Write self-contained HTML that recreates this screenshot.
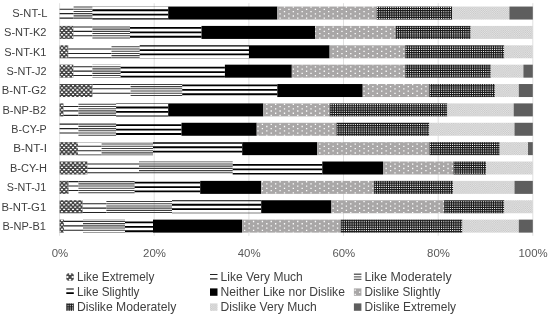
<!DOCTYPE html>
<html><head><meta charset="utf-8"><title>chart</title>
<style>
html,body{margin:0;padding:0;background:#fff;}
body{width:550px;height:315px;overflow:hidden;font-family:"Liberation Sans",sans-serif;}
svg{display:block}
svg text{font-family:"Liberation Sans",sans-serif;}
</style></head><body>
<svg width="550" height="315" viewBox="0 0 550 315">
<defs>
<pattern id="pDVM" width="2.2" height="2.2" patternUnits="userSpaceOnUse">
<rect width="2.2" height="2.2" fill="#e6e6e6"/><rect width="1.1" height="1.1" fill="#c6c6c6"/><rect x="1.1" y="1.1" width="1.1" height="1.1" fill="#c6c6c6"/>
</pattern>
</defs>
<rect width="550" height="315" fill="#fff"/>

<line x1="59.6" y1="3.2" x2="59.6" y2="235.8" stroke="#d9d9d9" stroke-width="0.8"/>
<line x1="154.2" y1="3.2" x2="154.2" y2="235.8" stroke="#d9d9d9" stroke-width="0.8"/>
<line x1="248.9" y1="3.2" x2="248.9" y2="235.8" stroke="#d9d9d9" stroke-width="0.8"/>
<line x1="343.5" y1="3.2" x2="343.5" y2="235.8" stroke="#d9d9d9" stroke-width="0.8"/>
<line x1="438.2" y1="3.2" x2="438.2" y2="235.8" stroke="#d9d9d9" stroke-width="0.8"/>
<line x1="532.8" y1="3.2" x2="532.8" y2="235.8" stroke="#d9d9d9" stroke-width="0.8"/>
<text x="12.20" y="16.8" font-size="11.25" fill="#404040" textLength="35.3" lengthAdjust="spacingAndGlyphs">S-NT-L</text>
<path d="M59.6 8.7H73.6V9.8H59.6ZM59.6 13.12H73.6V14.22H59.6ZM59.6 17.54H73.6V18.64H59.6Z" fill="#222"/>
<path d="M73.6 6.55H92.4V7.59H73.6ZM73.6 8.7H92.4V9.8H73.6ZM73.6 10.91H92.4V12.01H73.6ZM73.6 13.12H92.4V14.22H73.6ZM73.6 15.33H92.4V16.43H73.6ZM73.6 17.54H92.4V18.64H73.6Z" fill="#404040"/>
<path d="M92.4 6.55H168.2V6.73H92.4ZM92.4 9.35H168.2V11.15H92.4ZM92.4 13.77H168.2V15.57H92.4ZM92.4 18.19H168.2V19.55H92.4Z" fill="#000"/>
<rect x="168.2" y="6.55" width="109.1" height="13" fill="#000"/>
<rect x="277.3" y="6.55" width="99.4" height="13" fill="#a9a7a7"/><g fill="none" stroke="#fff" stroke-dasharray="1.3 7.54"><path d="M277.3 9.36H376.7" stroke-width="1.3" stroke-dashoffset="6.71"/><path d="M277.3 13.78H376.7" stroke-width="1.3" stroke-dashoffset="6.71"/><path d="M277.3 18.2H376.7" stroke-width="1.3" stroke-dashoffset="6.71"/></g><g fill="none" stroke="#fff" stroke-dasharray="1.3 7.54"><path d="M277.3 7.17H376.7" stroke-width="1.25" stroke-dashoffset="2.29"/><path d="M277.3 11.57H376.7" stroke-width="1.3" stroke-dashoffset="2.29"/><path d="M277.3 15.99H376.7" stroke-width="1.3" stroke-dashoffset="2.29"/></g>
<rect x="376.7" y="6.55" width="75.5" height="13" fill="#1c1c1c"/><g fill="none" stroke="#fff" stroke-dasharray="1.05 1.16"><path d="M376.7 7.36H452.2" stroke-width="1.05" stroke-dashoffset="1.96"/><path d="M376.7 9.57H452.2" stroke-width="1.05" stroke-dashoffset="1.96"/><path d="M376.7 11.78H452.2" stroke-width="1.05" stroke-dashoffset="1.96"/><path d="M376.7 13.99H452.2" stroke-width="1.05" stroke-dashoffset="1.96"/><path d="M376.7 16.2H452.2" stroke-width="1.05" stroke-dashoffset="1.96"/><path d="M376.7 18.41H452.2" stroke-width="1.05" stroke-dashoffset="1.96"/></g>
<rect x="452.2" y="6.55" width="57.2" height="13" fill="url(#pDVM)"/>
<rect x="509.4" y="6.55" width="23.4" height="13" fill="#5e5e5e"/>
<text x="4.00" y="36.1" font-size="11.25" fill="#404040" textLength="42.5" lengthAdjust="spacingAndGlyphs">S-NT-K2</text>
<rect x="59.6" y="25.92" width="13.7" height="13" fill="#454545"/><g fill="none" stroke="#fff" stroke-dasharray="2 2.42"><path d="M59.6 28.14H73.3" stroke-width="1.35" stroke-dashoffset="0.87"/><path d="M59.6 32.56H73.3" stroke-width="1.35" stroke-dashoffset="0.87"/><path d="M59.6 36.98H73.3" stroke-width="1.35" stroke-dashoffset="0.87"/></g><g fill="none" stroke="#fff" stroke-dasharray="2 2.42"><path d="M59.6 26.26H73.3" stroke-width="0.68" stroke-dashoffset="3.08"/><path d="M59.6 30.35H73.3" stroke-width="1.35" stroke-dashoffset="3.08"/><path d="M59.6 34.77H73.3" stroke-width="1.35" stroke-dashoffset="3.08"/><path d="M59.6 38.72H73.3" stroke-width="0.41" stroke-dashoffset="3.08"/></g>
<path d="M73.3 26.38H92.4V27.48H73.3ZM73.3 30.8H92.4V31.9H73.3ZM73.3 35.22H92.4V36.32H73.3Z" fill="#222"/>
<path d="M92.4 26.38H130V27.48H92.4ZM92.4 28.59H130V29.69H92.4ZM92.4 30.8H130V31.9H92.4ZM92.4 33.01H130V34.11H92.4ZM92.4 35.22H130V36.32H92.4ZM92.4 37.43H130V38.53H92.4Z" fill="#404040"/>
<path d="M130 27.03H201.5V28.83H130ZM130 31.45H201.5V33.25H130ZM130 35.87H201.5V37.67H130Z" fill="#000"/>
<rect x="201.5" y="25.92" width="113.7" height="13" fill="#000"/>
<rect x="315.2" y="25.92" width="80.5" height="13" fill="#a9a7a7"/><g fill="none" stroke="#fff" stroke-dasharray="1.3 7.54"><path d="M315.2 27.04H395.7" stroke-width="1.3" stroke-dashoffset="0.41"/><path d="M315.2 31.46H395.7" stroke-width="1.3" stroke-dashoffset="0.41"/><path d="M315.2 35.88H395.7" stroke-width="1.3" stroke-dashoffset="0.41"/></g><g fill="none" stroke="#fff" stroke-dasharray="1.3 7.54"><path d="M315.2 29.25H395.7" stroke-width="1.3" stroke-dashoffset="4.83"/><path d="M315.2 33.67H395.7" stroke-width="1.3" stroke-dashoffset="4.83"/><path d="M315.2 38.09H395.7" stroke-width="1.3" stroke-dashoffset="4.83"/></g>
<rect x="395.7" y="25.92" width="75" height="13" fill="#1c1c1c"/><g fill="none" stroke="#fff" stroke-dasharray="1.05 1.16"><path d="M395.7 27.25H470.7" stroke-width="1.05" stroke-dashoffset="1.07"/><path d="M395.7 29.46H470.7" stroke-width="1.05" stroke-dashoffset="1.07"/><path d="M395.7 31.67H470.7" stroke-width="1.05" stroke-dashoffset="1.07"/><path d="M395.7 33.88H470.7" stroke-width="1.05" stroke-dashoffset="1.07"/><path d="M395.7 36.09H470.7" stroke-width="1.05" stroke-dashoffset="1.07"/><path d="M395.7 38.3H470.7" stroke-width="1.05" stroke-dashoffset="1.07"/></g>
<rect x="470.7" y="25.92" width="62.1" height="13" fill="url(#pDVM)"/>
<text x="4.20" y="55.5" font-size="11.25" fill="#404040" textLength="42.3" lengthAdjust="spacingAndGlyphs">S-NT-K1</text>
<rect x="59.6" y="45.29" width="8.6" height="13" fill="#454545"/><g fill="none" stroke="#fff" stroke-dasharray="2 2.42"><path d="M59.6 45.89H68.2" stroke-width="1.2" stroke-dashoffset="0.87"/><path d="M59.6 50.24H68.2" stroke-width="1.35" stroke-dashoffset="0.87"/><path d="M59.6 54.66H68.2" stroke-width="1.35" stroke-dashoffset="0.87"/></g><g fill="none" stroke="#fff" stroke-dasharray="2 2.42"><path d="M59.6 48.03H68.2" stroke-width="1.35" stroke-dashoffset="3.08"/><path d="M59.6 52.45H68.2" stroke-width="1.35" stroke-dashoffset="3.08"/><path d="M59.6 56.87H68.2" stroke-width="1.35" stroke-dashoffset="3.08"/></g>
<path d="M68.2 48.48H111.5V49.58H68.2ZM68.2 52.9H111.5V54H68.2ZM68.2 57.32H111.5V58.29H68.2Z" fill="#222"/>
<path d="M111.5 46.27H139.7V47.37H111.5ZM111.5 48.48H139.7V49.58H111.5ZM111.5 50.69H139.7V51.79H111.5ZM111.5 52.9H139.7V54H111.5ZM111.5 55.11H139.7V56.21H111.5ZM111.5 57.32H139.7V58.29H111.5Z" fill="#404040"/>
<path d="M139.7 45.29H249V46.51H139.7ZM139.7 49.13H249V50.93H139.7ZM139.7 53.55H249V55.35H139.7ZM139.7 57.97H249V58.29H139.7Z" fill="#000"/>
<rect x="249" y="45.29" width="80.6" height="13" fill="#000"/>
<rect x="329.6" y="45.29" width="75.6" height="13" fill="#a9a7a7"/><g fill="none" stroke="#fff" stroke-dasharray="1.3 7.54"><path d="M329.6 45.33H405.2" stroke-width="0.08" stroke-dashoffset="5.97"/><path d="M329.6 49.14H405.2" stroke-width="1.3" stroke-dashoffset="5.97"/><path d="M329.6 53.56H405.2" stroke-width="1.3" stroke-dashoffset="5.97"/><path d="M329.6 57.81H405.2" stroke-width="0.96" stroke-dashoffset="5.97"/></g><g fill="none" stroke="#fff" stroke-dasharray="1.3 7.54"><path d="M329.6 46.93H405.2" stroke-width="1.3" stroke-dashoffset="1.55"/><path d="M329.6 51.35H405.2" stroke-width="1.3" stroke-dashoffset="1.55"/><path d="M329.6 55.77H405.2" stroke-width="1.3" stroke-dashoffset="1.55"/></g>
<rect x="405.2" y="45.29" width="99.1" height="13" fill="#1c1c1c"/><g fill="none" stroke="#fff" stroke-dasharray="1.05 1.16"><path d="M405.2 45.37H504.3" stroke-width="0.16" stroke-dashoffset="1.73"/><path d="M405.2 47.14H504.3" stroke-width="1.05" stroke-dashoffset="1.73"/><path d="M405.2 49.35H504.3" stroke-width="1.05" stroke-dashoffset="1.73"/><path d="M405.2 51.56H504.3" stroke-width="1.05" stroke-dashoffset="1.73"/><path d="M405.2 53.77H504.3" stroke-width="1.05" stroke-dashoffset="1.73"/><path d="M405.2 55.98H504.3" stroke-width="1.05" stroke-dashoffset="1.73"/><path d="M405.2 57.98H504.3" stroke-width="0.62" stroke-dashoffset="1.73"/></g>
<rect x="504.3" y="45.29" width="28.5" height="13" fill="url(#pDVM)"/>
<text x="6.50" y="74.9" font-size="11.25" fill="#404040" textLength="40.0" lengthAdjust="spacingAndGlyphs">S-NT-J2</text>
<rect x="59.6" y="64.66" width="13.7" height="13" fill="#454545"/><g fill="none" stroke="#fff" stroke-dasharray="2 2.42"><path d="M59.6 67.92H73.3" stroke-width="1.35" stroke-dashoffset="0.87"/><path d="M59.6 72.34H73.3" stroke-width="1.35" stroke-dashoffset="0.87"/><path d="M59.6 76.76H73.3" stroke-width="1.35" stroke-dashoffset="0.87"/></g><g fill="none" stroke="#fff" stroke-dasharray="2 2.42"><path d="M59.6 65.71H73.3" stroke-width="1.35" stroke-dashoffset="3.08"/><path d="M59.6 70.13H73.3" stroke-width="1.35" stroke-dashoffset="3.08"/><path d="M59.6 74.55H73.3" stroke-width="1.35" stroke-dashoffset="3.08"/></g>
<path d="M73.3 66.16H92.4V67.26H73.3ZM73.3 70.58H92.4V71.68H73.3ZM73.3 75H92.4V76.1H73.3Z" fill="#222"/>
<path d="M92.4 64.66H120.6V65.05H92.4ZM92.4 66.16H120.6V67.26H92.4ZM92.4 68.37H120.6V69.47H92.4ZM92.4 70.58H120.6V71.68H92.4ZM92.4 72.79H120.6V73.89H92.4ZM92.4 75H120.6V76.1H92.4ZM92.4 77.21H120.6V77.66H92.4Z" fill="#404040"/>
<path d="M120.6 66.81H224.9V68.61H120.6ZM120.6 71.23H224.9V73.03H120.6ZM120.6 75.65H224.9V77.45H120.6Z" fill="#000"/>
<rect x="224.9" y="64.66" width="66.9" height="13" fill="#000"/>
<rect x="291.8" y="64.66" width="113.4" height="13" fill="#a9a7a7"/><g fill="none" stroke="#fff" stroke-dasharray="1.3 7.54"><path d="M291.8 66.82H405.2" stroke-width="1.3" stroke-dashoffset="3.53"/><path d="M291.8 71.24H405.2" stroke-width="1.3" stroke-dashoffset="3.53"/><path d="M291.8 75.66H405.2" stroke-width="1.3" stroke-dashoffset="3.53"/></g><g fill="none" stroke="#fff" stroke-dasharray="1.3 7.54"><path d="M291.8 64.96H405.2" stroke-width="0.6" stroke-dashoffset="7.95"/><path d="M291.8 69.03H405.2" stroke-width="1.3" stroke-dashoffset="7.95"/><path d="M291.8 73.45H405.2" stroke-width="1.3" stroke-dashoffset="7.95"/><path d="M291.8 77.44H405.2" stroke-width="0.44" stroke-dashoffset="7.95"/></g>
<rect x="405.2" y="64.66" width="85.6" height="13" fill="#1c1c1c"/><g fill="none" stroke="#fff" stroke-dasharray="1.05 1.16"><path d="M405.2 65H490.8" stroke-width="0.69" stroke-dashoffset="1.73"/><path d="M405.2 67.03H490.8" stroke-width="1.05" stroke-dashoffset="1.73"/><path d="M405.2 69.24H490.8" stroke-width="1.05" stroke-dashoffset="1.73"/><path d="M405.2 71.45H490.8" stroke-width="1.05" stroke-dashoffset="1.73"/><path d="M405.2 73.66H490.8" stroke-width="1.05" stroke-dashoffset="1.73"/><path d="M405.2 75.87H490.8" stroke-width="1.05" stroke-dashoffset="1.73"/><path d="M405.2 77.61H490.8" stroke-width="0.11" stroke-dashoffset="1.73"/></g>
<rect x="490.8" y="64.66" width="32.6" height="13" fill="url(#pDVM)"/>
<rect x="523.4" y="64.66" width="9.4" height="13" fill="#5e5e5e"/>
<text x="1.70" y="94.2" font-size="11.25" fill="#404040" textLength="44.5" lengthAdjust="spacingAndGlyphs">B-NT-G2</text>
<rect x="59.6" y="84.03" width="32.8" height="13" fill="#454545"/><g fill="none" stroke="#fff" stroke-dasharray="2 2.42"><path d="M59.6 85.6H92.4" stroke-width="1.35" stroke-dashoffset="0.87"/><path d="M59.6 90.02H92.4" stroke-width="1.35" stroke-dashoffset="0.87"/><path d="M59.6 94.44H92.4" stroke-width="1.35" stroke-dashoffset="0.87"/></g><g fill="none" stroke="#fff" stroke-dasharray="2 2.42"><path d="M59.6 87.81H92.4" stroke-width="1.35" stroke-dashoffset="3.08"/><path d="M59.6 92.23H92.4" stroke-width="1.35" stroke-dashoffset="3.08"/><path d="M59.6 96.5H92.4" stroke-width="1.06" stroke-dashoffset="3.08"/></g>
<path d="M92.4 84.03H130.6V84.94H92.4ZM92.4 88.26H130.6V89.36H92.4ZM92.4 92.68H130.6V93.78H92.4Z" fill="#222"/>
<path d="M130.6 84.03H182.2V84.94H130.6ZM130.6 86.05H182.2V87.15H130.6ZM130.6 88.26H182.2V89.36H130.6ZM130.6 90.47H182.2V91.57H130.6ZM130.6 92.68H182.2V93.78H130.6ZM130.6 94.89H182.2V95.99H130.6Z" fill="#404040"/>
<path d="M182.2 84.49H277.3V86.29H182.2ZM182.2 88.91H277.3V90.71H182.2ZM182.2 93.33H277.3V95.13H182.2Z" fill="#000"/>
<rect x="277.3" y="84.03" width="85.4" height="13" fill="#000"/>
<rect x="362.7" y="84.03" width="66.6" height="13" fill="#a9a7a7"/><g fill="none" stroke="#fff" stroke-dasharray="1.3 7.54"><path d="M362.7 84.59H429.3" stroke-width="1.12" stroke-dashoffset="3.71"/><path d="M362.7 88.92H429.3" stroke-width="1.3" stroke-dashoffset="3.71"/><path d="M362.7 93.34H429.3" stroke-width="1.3" stroke-dashoffset="3.71"/></g><g fill="none" stroke="#fff" stroke-dasharray="1.3 7.54"><path d="M362.7 86.71H429.3" stroke-width="1.3" stroke-dashoffset="8.13"/><path d="M362.7 91.13H429.3" stroke-width="1.3" stroke-dashoffset="8.13"/><path d="M362.7 95.55H429.3" stroke-width="1.3" stroke-dashoffset="8.13"/></g>
<rect x="429.3" y="84.03" width="65.6" height="13" fill="#1c1c1c"/><g fill="none" stroke="#fff" stroke-dasharray="1.05 1.16"><path d="M429.3 84.71H494.9" stroke-width="1.05" stroke-dashoffset="1.52"/><path d="M429.3 86.92H494.9" stroke-width="1.05" stroke-dashoffset="1.52"/><path d="M429.3 89.13H494.9" stroke-width="1.05" stroke-dashoffset="1.52"/><path d="M429.3 91.34H494.9" stroke-width="1.05" stroke-dashoffset="1.52"/><path d="M429.3 93.55H494.9" stroke-width="1.05" stroke-dashoffset="1.52"/><path d="M429.3 95.76H494.9" stroke-width="1.05" stroke-dashoffset="1.52"/></g>
<rect x="494.9" y="84.03" width="23.9" height="13" fill="url(#pDVM)"/>
<rect x="518.8" y="84.03" width="14" height="13" fill="#5e5e5e"/>
<text x="2.40" y="113.6" font-size="11.25" fill="#404040" textLength="43.8" lengthAdjust="spacingAndGlyphs">B-NP-B2</text>
<rect x="59.6" y="103.4" width="3.8" height="13" fill="#454545"/><g fill="none" stroke="#fff" stroke-dasharray="2 2.42"><path d="M59.6 103.68H63.4" stroke-width="0.55" stroke-dashoffset="0.87"/><path d="M59.6 107.7H63.4" stroke-width="1.35" stroke-dashoffset="0.87"/><path d="M59.6 112.12H63.4" stroke-width="1.35" stroke-dashoffset="0.87"/><path d="M59.6 116.13H63.4" stroke-width="0.54" stroke-dashoffset="0.87"/></g><g fill="none" stroke="#fff" stroke-dasharray="2 2.42"><path d="M59.6 105.49H63.4" stroke-width="1.35" stroke-dashoffset="3.08"/><path d="M59.6 109.91H63.4" stroke-width="1.35" stroke-dashoffset="3.08"/><path d="M59.6 114.33H63.4" stroke-width="1.35" stroke-dashoffset="3.08"/></g>
<path d="M63.4 105.94H78.4V107.04H63.4ZM63.4 110.36H78.4V111.46H63.4ZM63.4 114.78H78.4V115.88H63.4Z" fill="#222"/>
<path d="M78.4 103.73H116.1V104.83H78.4ZM78.4 105.94H116.1V107.04H78.4ZM78.4 108.15H116.1V109.25H78.4ZM78.4 110.36H116.1V111.46H78.4ZM78.4 112.57H116.1V113.67H78.4ZM78.4 114.78H116.1V115.88H78.4Z" fill="#404040"/>
<path d="M116.1 103.4H168.2V103.97H116.1ZM116.1 106.59H168.2V108.39H116.1ZM116.1 111.01H168.2V112.81H116.1ZM116.1 115.43H168.2V116.4H116.1Z" fill="#000"/>
<rect x="168.2" y="103.4" width="95.1" height="13" fill="#000"/>
<rect x="263.3" y="103.4" width="66.3" height="13" fill="#a9a7a7"/><g fill="none" stroke="#fff" stroke-dasharray="1.3 7.54"><path d="M263.3 106.6H329.6" stroke-width="1.3" stroke-dashoffset="1.55"/><path d="M263.3 111.02H329.6" stroke-width="1.3" stroke-dashoffset="1.55"/><path d="M263.3 115.44H329.6" stroke-width="1.3" stroke-dashoffset="1.55"/></g><g fill="none" stroke="#fff" stroke-dasharray="1.3 7.54"><path d="M263.3 104.39H329.6" stroke-width="1.3" stroke-dashoffset="5.97"/><path d="M263.3 108.81H329.6" stroke-width="1.3" stroke-dashoffset="5.97"/><path d="M263.3 113.23H329.6" stroke-width="1.3" stroke-dashoffset="5.97"/></g>
<rect x="329.6" y="103.4" width="117.7" height="13" fill="#1c1c1c"/><g fill="none" stroke="#fff" stroke-dasharray="1.05 1.16"><path d="M329.6 104.6H447.3" stroke-width="1.05" stroke-dashoffset="1.27"/><path d="M329.6 106.81H447.3" stroke-width="1.05" stroke-dashoffset="1.27"/><path d="M329.6 109.02H447.3" stroke-width="1.05" stroke-dashoffset="1.27"/><path d="M329.6 111.23H447.3" stroke-width="1.05" stroke-dashoffset="1.27"/><path d="M329.6 113.44H447.3" stroke-width="1.05" stroke-dashoffset="1.27"/><path d="M329.6 115.65H447.3" stroke-width="1.05" stroke-dashoffset="1.27"/></g>
<rect x="447.3" y="103.4" width="66.4" height="13" fill="url(#pDVM)"/>
<rect x="513.7" y="103.4" width="19.1" height="13" fill="#5e5e5e"/>
<text x="11.30" y="133.0" font-size="11.25" fill="#404040" textLength="35.3" lengthAdjust="spacingAndGlyphs">B-CY-P</text>
<path d="M59.6 123.62H78.4V124.72H59.6ZM59.6 128.04H78.4V129.14H59.6ZM59.6 132.46H78.4V133.56H59.6Z" fill="#222"/>
<path d="M78.4 123.62H116.1V124.72H78.4ZM78.4 125.83H116.1V126.93H78.4ZM78.4 128.04H116.1V129.14H78.4ZM78.4 130.25H116.1V131.35H78.4ZM78.4 132.46H116.1V133.56H78.4ZM78.4 134.67H116.1V135.77H78.4Z" fill="#404040"/>
<path d="M116.1 124.27H181.5V126.07H116.1ZM116.1 128.69H181.5V130.49H116.1ZM116.1 133.11H181.5V134.91H116.1Z" fill="#000"/>
<rect x="181.5" y="122.77" width="75.2" height="13" fill="#000"/>
<rect x="256.7" y="122.77" width="79.8" height="13" fill="#a9a7a7"/><g fill="none" stroke="#fff" stroke-dasharray="1.3 7.54"><path d="M256.7 124.28H336.5" stroke-width="1.3" stroke-dashoffset="3.79"/><path d="M256.7 128.7H336.5" stroke-width="1.3" stroke-dashoffset="3.79"/><path d="M256.7 133.12H336.5" stroke-width="1.3" stroke-dashoffset="3.79"/></g><g fill="none" stroke="#fff" stroke-dasharray="1.3 7.54"><path d="M256.7 126.49H336.5" stroke-width="1.3" stroke-dashoffset="8.21"/><path d="M256.7 130.91H336.5" stroke-width="1.3" stroke-dashoffset="8.21"/><path d="M256.7 135.22H336.5" stroke-width="1.09" stroke-dashoffset="8.21"/></g>
<rect x="336.5" y="122.77" width="92.8" height="13" fill="#1c1c1c"/><g fill="none" stroke="#fff" stroke-dasharray="1.05 1.16"><path d="M336.5 124.49H429.3" stroke-width="1.05" stroke-dashoffset="1.54"/><path d="M336.5 126.7H429.3" stroke-width="1.05" stroke-dashoffset="1.54"/><path d="M336.5 128.91H429.3" stroke-width="1.05" stroke-dashoffset="1.54"/><path d="M336.5 131.12H429.3" stroke-width="1.05" stroke-dashoffset="1.54"/><path d="M336.5 133.33H429.3" stroke-width="1.05" stroke-dashoffset="1.54"/><path d="M336.5 135.39H429.3" stroke-width="0.75" stroke-dashoffset="1.54"/></g>
<rect x="429.3" y="122.77" width="85.2" height="13" fill="url(#pDVM)"/>
<rect x="514.5" y="122.77" width="18.3" height="13" fill="#5e5e5e"/>
<text x="13.20" y="152.3" font-size="11.25" fill="#404040" textLength="33.7" lengthAdjust="spacingAndGlyphs">B-NT-I</text>
<rect x="59.6" y="142.14" width="18.3" height="13" fill="#454545"/><g fill="none" stroke="#fff" stroke-dasharray="2 2.42"><path d="M59.6 143.06H77.9" stroke-width="1.35" stroke-dashoffset="0.87"/><path d="M59.6 147.48H77.9" stroke-width="1.35" stroke-dashoffset="0.87"/><path d="M59.6 151.9H77.9" stroke-width="1.35" stroke-dashoffset="0.87"/></g><g fill="none" stroke="#fff" stroke-dasharray="2 2.42"><path d="M59.6 145.27H77.9" stroke-width="1.35" stroke-dashoffset="3.08"/><path d="M59.6 149.69H77.9" stroke-width="1.35" stroke-dashoffset="3.08"/><path d="M59.6 154.11H77.9" stroke-width="1.35" stroke-dashoffset="3.08"/></g>
<path d="M77.9 142.14H101.6V142.4H77.9ZM77.9 145.72H101.6V146.82H77.9ZM77.9 150.14H101.6V151.24H77.9ZM77.9 154.56H101.6V155.14H77.9Z" fill="#222"/>
<path d="M101.6 142.14H153V142.4H101.6ZM101.6 143.51H153V144.61H101.6ZM101.6 145.72H153V146.82H101.6ZM101.6 147.93H153V149.03H101.6ZM101.6 150.14H153V151.24H101.6ZM101.6 152.35H153V153.45H101.6ZM101.6 154.56H153V155.14H101.6Z" fill="#404040"/>
<path d="M153 142.14H242.2V143.75H153ZM153 146.37H242.2V148.17H153ZM153 150.79H242.2V152.59H153Z" fill="#000"/>
<rect x="242.2" y="142.14" width="75" height="13" fill="#000"/>
<rect x="317.2" y="142.14" width="112.3" height="13" fill="#a9a7a7"/><g fill="none" stroke="#fff" stroke-dasharray="1.3 7.54"><path d="M317.2 142.38H429.5" stroke-width="0.47" stroke-dashoffset="2.41"/><path d="M317.2 146.38H429.5" stroke-width="1.3" stroke-dashoffset="2.41"/><path d="M317.2 150.8H429.5" stroke-width="1.3" stroke-dashoffset="2.41"/><path d="M317.2 154.86H429.5" stroke-width="0.57" stroke-dashoffset="2.41"/></g><g fill="none" stroke="#fff" stroke-dasharray="1.3 7.54"><path d="M317.2 144.17H429.5" stroke-width="1.3" stroke-dashoffset="6.83"/><path d="M317.2 148.59H429.5" stroke-width="1.3" stroke-dashoffset="6.83"/><path d="M317.2 153.01H429.5" stroke-width="1.3" stroke-dashoffset="6.83"/></g>
<rect x="429.5" y="142.14" width="70.2" height="13" fill="#1c1c1c"/><g fill="none" stroke="#fff" stroke-dasharray="1.05 1.16"><path d="M429.5 142.42H499.7" stroke-width="0.55" stroke-dashoffset="1.72"/><path d="M429.5 144.38H499.7" stroke-width="1.05" stroke-dashoffset="1.72"/><path d="M429.5 146.59H499.7" stroke-width="1.05" stroke-dashoffset="1.72"/><path d="M429.5 148.8H499.7" stroke-width="1.05" stroke-dashoffset="1.72"/><path d="M429.5 151.01H499.7" stroke-width="1.05" stroke-dashoffset="1.72"/><path d="M429.5 153.22H499.7" stroke-width="1.05" stroke-dashoffset="1.72"/><path d="M429.5 155.02H499.7" stroke-width="0.24" stroke-dashoffset="1.72"/></g>
<rect x="499.7" y="142.14" width="28.3" height="13" fill="url(#pDVM)"/>
<rect x="528" y="142.14" width="4.8" height="13" fill="#5e5e5e"/>
<text x="10.00" y="171.7" font-size="11.25" fill="#404040" textLength="36.9" lengthAdjust="spacingAndGlyphs">B-CY-H</text>
<rect x="59.6" y="161.51" width="27.7" height="13" fill="#454545"/><g fill="none" stroke="#fff" stroke-dasharray="2 2.42"><path d="M59.6 165.16H87.3" stroke-width="1.35" stroke-dashoffset="0.87"/><path d="M59.6 169.58H87.3" stroke-width="1.35" stroke-dashoffset="0.87"/><path d="M59.6 173.92H87.3" stroke-width="1.19" stroke-dashoffset="0.87"/></g><g fill="none" stroke="#fff" stroke-dasharray="2 2.42"><path d="M59.6 162.95H87.3" stroke-width="1.35" stroke-dashoffset="3.08"/><path d="M59.6 167.37H87.3" stroke-width="1.35" stroke-dashoffset="3.08"/><path d="M59.6 171.79H87.3" stroke-width="1.35" stroke-dashoffset="3.08"/></g>
<path d="M87.3 163.4H139V164.5H87.3ZM87.3 167.82H139V168.92H87.3ZM87.3 172.24H139V173.34H87.3Z" fill="#222"/>
<path d="M139 161.51H232.7V162.29H139ZM139 163.4H232.7V164.5H139ZM139 165.61H232.7V166.71H139ZM139 167.82H232.7V168.92H139ZM139 170.03H232.7V171.13H139ZM139 172.24H232.7V173.34H139ZM139 174.45H232.7V174.51H139Z" fill="#404040"/>
<path d="M232.7 164.05H322.3V165.85H232.7ZM232.7 168.47H322.3V170.27H232.7ZM232.7 172.89H322.3V174.51H232.7Z" fill="#000"/>
<rect x="322.3" y="161.51" width="60.7" height="13" fill="#000"/>
<rect x="383" y="161.51" width="70.5" height="13" fill="#a9a7a7"/><g fill="none" stroke="#fff" stroke-dasharray="1.3 7.54"><path d="M383 164.06H453.5" stroke-width="1.3" stroke-dashoffset="6.33"/><path d="M383 168.48H453.5" stroke-width="1.3" stroke-dashoffset="6.33"/><path d="M383 172.9H453.5" stroke-width="1.3" stroke-dashoffset="6.33"/></g><g fill="none" stroke="#fff" stroke-dasharray="1.3 7.54"><path d="M383 162H453.5" stroke-width="0.99" stroke-dashoffset="1.91"/><path d="M383 166.27H453.5" stroke-width="1.3" stroke-dashoffset="1.91"/><path d="M383 170.69H453.5" stroke-width="1.3" stroke-dashoffset="1.91"/><path d="M383 174.49H453.5" stroke-width="0.05" stroke-dashoffset="1.91"/></g>
<rect x="453.5" y="161.51" width="32.5" height="13" fill="#1c1c1c"/><g fill="none" stroke="#fff" stroke-dasharray="1.05 1.16"><path d="M453.5 162.06H486" stroke-width="1.05" stroke-dashoffset="1.41"/><path d="M453.5 164.27H486" stroke-width="1.05" stroke-dashoffset="1.41"/><path d="M453.5 166.48H486" stroke-width="1.05" stroke-dashoffset="1.41"/><path d="M453.5 168.69H486" stroke-width="1.05" stroke-dashoffset="1.41"/><path d="M453.5 170.9H486" stroke-width="1.05" stroke-dashoffset="1.41"/><path d="M453.5 173.11H486" stroke-width="1.05" stroke-dashoffset="1.41"/></g>
<rect x="486" y="161.51" width="46.8" height="13" fill="url(#pDVM)"/>
<text x="6.75" y="191.1" font-size="11.25" fill="#404040" textLength="39.5" lengthAdjust="spacingAndGlyphs">S-NT-J1</text>
<rect x="59.6" y="180.88" width="8.9" height="13" fill="#454545"/><g fill="none" stroke="#fff" stroke-dasharray="2 2.42"><path d="M59.6 182.84H68.5" stroke-width="1.35" stroke-dashoffset="0.87"/><path d="M59.6 187.26H68.5" stroke-width="1.35" stroke-dashoffset="0.87"/><path d="M59.6 191.68H68.5" stroke-width="1.35" stroke-dashoffset="0.87"/></g><g fill="none" stroke="#fff" stroke-dasharray="2 2.42"><path d="M59.6 181.09H68.5" stroke-width="0.42" stroke-dashoffset="3.08"/><path d="M59.6 185.05H68.5" stroke-width="1.35" stroke-dashoffset="3.08"/><path d="M59.6 189.47H68.5" stroke-width="1.35" stroke-dashoffset="3.08"/><path d="M59.6 193.55H68.5" stroke-width="0.67" stroke-dashoffset="3.08"/></g>
<path d="M68.5 181.08H78.4V182.18H68.5ZM68.5 185.5H78.4V186.6H68.5ZM68.5 189.92H78.4V191.02H68.5Z" fill="#222"/>
<path d="M78.4 181.08H134.6V182.18H78.4ZM78.4 183.29H134.6V184.39H78.4ZM78.4 185.5H134.6V186.6H78.4ZM78.4 187.71H134.6V188.81H78.4ZM78.4 189.92H134.6V191.02H78.4ZM78.4 192.13H134.6V193.23H78.4Z" fill="#404040"/>
<path d="M134.6 181.73H200.2V183.53H134.6ZM134.6 186.15H200.2V187.95H134.6ZM134.6 190.57H200.2V192.37H134.6Z" fill="#000"/>
<rect x="200.2" y="180.88" width="61" height="13" fill="#000"/>
<rect x="261.2" y="180.88" width="112.7" height="13" fill="#a9a7a7"/><g fill="none" stroke="#fff" stroke-dasharray="1.3 7.54"><path d="M261.2 181.74H373.9" stroke-width="1.3" stroke-dashoffset="8.29"/><path d="M261.2 186.16H373.9" stroke-width="1.3" stroke-dashoffset="8.29"/><path d="M261.2 190.58H373.9" stroke-width="1.3" stroke-dashoffset="8.29"/></g><g fill="none" stroke="#fff" stroke-dasharray="1.3 7.54"><path d="M261.2 183.95H373.9" stroke-width="1.3" stroke-dashoffset="3.87"/><path d="M261.2 188.37H373.9" stroke-width="1.3" stroke-dashoffset="3.87"/><path d="M261.2 192.79H373.9" stroke-width="1.3" stroke-dashoffset="3.87"/></g>
<rect x="373.9" y="180.88" width="79.1" height="13" fill="#1c1c1c"/><g fill="none" stroke="#fff" stroke-dasharray="1.05 1.16"><path d="M373.9 181.95H453" stroke-width="1.05" stroke-dashoffset="1.37"/><path d="M373.9 184.16H453" stroke-width="1.05" stroke-dashoffset="1.37"/><path d="M373.9 186.37H453" stroke-width="1.05" stroke-dashoffset="1.37"/><path d="M373.9 188.58H453" stroke-width="1.05" stroke-dashoffset="1.37"/><path d="M373.9 190.79H453" stroke-width="1.05" stroke-dashoffset="1.37"/><path d="M373.9 193H453" stroke-width="1.05" stroke-dashoffset="1.37"/></g>
<rect x="453" y="180.88" width="61.5" height="13" fill="url(#pDVM)"/>
<rect x="514.5" y="180.88" width="18.3" height="13" fill="#5e5e5e"/>
<text x="1.50" y="210.5" font-size="11.25" fill="#404040" textLength="44.7" lengthAdjust="spacingAndGlyphs">B-NT-G1</text>
<rect x="59.6" y="200.25" width="22.9" height="13" fill="#454545"/><g fill="none" stroke="#fff" stroke-dasharray="2 2.42"><path d="M59.6 200.72H82.5" stroke-width="0.94" stroke-dashoffset="0.87"/><path d="M59.6 204.94H82.5" stroke-width="1.35" stroke-dashoffset="0.87"/><path d="M59.6 209.36H82.5" stroke-width="1.35" stroke-dashoffset="0.87"/><path d="M59.6 213.18H82.5" stroke-width="0.15" stroke-dashoffset="0.87"/></g><g fill="none" stroke="#fff" stroke-dasharray="2 2.42"><path d="M59.6 202.73H82.5" stroke-width="1.35" stroke-dashoffset="3.08"/><path d="M59.6 207.15H82.5" stroke-width="1.35" stroke-dashoffset="3.08"/><path d="M59.6 211.57H82.5" stroke-width="1.35" stroke-dashoffset="3.08"/></g>
<path d="M82.5 203.18H106.4V204.28H82.5ZM82.5 207.6H106.4V208.7H82.5ZM82.5 212.02H106.4V213.12H82.5Z" fill="#222"/>
<path d="M106.4 200.97H172V202.07H106.4ZM106.4 203.18H172V204.28H106.4ZM106.4 205.39H172V206.49H106.4ZM106.4 207.6H172V208.7H106.4ZM106.4 209.81H172V210.91H106.4ZM106.4 212.02H172V213.12H106.4Z" fill="#404040"/>
<path d="M172 200.25H261.2V201.21H172ZM172 203.83H261.2V205.63H172ZM172 208.25H261.2V210.05H172ZM172 212.67H261.2V213.25H172Z" fill="#000"/>
<rect x="261.2" y="200.25" width="70.2" height="13" fill="#000"/>
<rect x="331.4" y="200.25" width="112.7" height="13" fill="#a9a7a7"/><g fill="none" stroke="#fff" stroke-dasharray="1.3 7.54"><path d="M331.4 203.84H444.1" stroke-width="1.3" stroke-dashoffset="7.77"/><path d="M331.4 208.26H444.1" stroke-width="1.3" stroke-dashoffset="7.77"/><path d="M331.4 212.64H444.1" stroke-width="1.22" stroke-dashoffset="7.77"/></g><g fill="none" stroke="#fff" stroke-dasharray="1.3 7.54"><path d="M331.4 201.63H444.1" stroke-width="1.3" stroke-dashoffset="3.35"/><path d="M331.4 206.05H444.1" stroke-width="1.3" stroke-dashoffset="3.35"/><path d="M331.4 210.47H444.1" stroke-width="1.3" stroke-dashoffset="3.35"/></g>
<rect x="444.1" y="200.25" width="60.2" height="13" fill="#1c1c1c"/><g fill="none" stroke="#fff" stroke-dasharray="1.05 1.16"><path d="M444.1 201.84H504.3" stroke-width="1.05" stroke-dashoffset="0.85"/><path d="M444.1 204.05H504.3" stroke-width="1.05" stroke-dashoffset="0.85"/><path d="M444.1 206.26H504.3" stroke-width="1.05" stroke-dashoffset="0.85"/><path d="M444.1 208.47H504.3" stroke-width="1.05" stroke-dashoffset="0.85"/><path d="M444.1 210.68H504.3" stroke-width="1.05" stroke-dashoffset="0.85"/><path d="M444.1 212.81H504.3" stroke-width="0.89" stroke-dashoffset="0.85"/></g>
<rect x="504.3" y="200.25" width="28.5" height="13" fill="url(#pDVM)"/>
<text x="2.40" y="229.8" font-size="11.25" fill="#404040" textLength="43.5" lengthAdjust="spacingAndGlyphs">B-NP-B1</text>
<rect x="59.6" y="219.62" width="4.3" height="13" fill="#454545"/><g fill="none" stroke="#fff" stroke-dasharray="2 2.42"><path d="M59.6 222.62H63.9" stroke-width="1.35" stroke-dashoffset="0.87"/><path d="M59.6 227.04H63.9" stroke-width="1.35" stroke-dashoffset="0.87"/><path d="M59.6 231.46H63.9" stroke-width="1.35" stroke-dashoffset="0.87"/></g><g fill="none" stroke="#fff" stroke-dasharray="2 2.42"><path d="M59.6 220.41H63.9" stroke-width="1.35" stroke-dashoffset="3.08"/><path d="M59.6 224.83H63.9" stroke-width="1.35" stroke-dashoffset="3.08"/><path d="M59.6 229.25H63.9" stroke-width="1.35" stroke-dashoffset="3.08"/></g>
<path d="M63.9 220.86H83V221.96H63.9ZM63.9 225.28H83V226.38H63.9ZM63.9 229.7H83V230.8H63.9Z" fill="#222"/>
<path d="M83 219.62H125V219.75H83ZM83 220.86H125V221.96H83ZM83 223.07H125V224.17H83ZM83 225.28H125V226.38H83ZM83 227.49H125V228.59H83ZM83 229.7H125V230.8H83ZM83 231.91H125V232.62H83Z" fill="#404040"/>
<path d="M125 221.51H153V223.31H125ZM125 225.93H153V227.73H125ZM125 230.35H153V232.15H125Z" fill="#000"/>
<rect x="153" y="219.62" width="89.2" height="13" fill="#000"/>
<rect x="242.2" y="219.62" width="98.6" height="13" fill="#a9a7a7"/><g fill="none" stroke="#fff" stroke-dasharray="1.3 7.54"><path d="M242.2 221.52H340.8" stroke-width="1.3" stroke-dashoffset="6.97"/><path d="M242.2 225.94H340.8" stroke-width="1.3" stroke-dashoffset="6.97"/><path d="M242.2 230.36H340.8" stroke-width="1.3" stroke-dashoffset="6.97"/></g><g fill="none" stroke="#fff" stroke-dasharray="1.3 7.54"><path d="M242.2 219.79H340.8" stroke-width="0.34" stroke-dashoffset="2.55"/><path d="M242.2 223.73H340.8" stroke-width="1.3" stroke-dashoffset="2.55"/><path d="M242.2 228.15H340.8" stroke-width="1.3" stroke-dashoffset="2.55"/><path d="M242.2 232.27H340.8" stroke-width="0.7" stroke-dashoffset="2.55"/></g>
<rect x="340.8" y="219.62" width="121.6" height="13" fill="#1c1c1c"/><g fill="none" stroke="#fff" stroke-dasharray="1.05 1.16"><path d="M340.8 219.83H462.4" stroke-width="0.42" stroke-dashoffset="1.42"/><path d="M340.8 221.73H462.4" stroke-width="1.05" stroke-dashoffset="1.42"/><path d="M340.8 223.94H462.4" stroke-width="1.05" stroke-dashoffset="1.42"/><path d="M340.8 226.15H462.4" stroke-width="1.05" stroke-dashoffset="1.42"/><path d="M340.8 228.36H462.4" stroke-width="1.05" stroke-dashoffset="1.42"/><path d="M340.8 230.57H462.4" stroke-width="1.05" stroke-dashoffset="1.42"/><path d="M340.8 232.44H462.4" stroke-width="0.37" stroke-dashoffset="1.42"/></g>
<rect x="462.4" y="219.62" width="56.4" height="13" fill="url(#pDVM)"/>
<rect x="518.8" y="219.62" width="14" height="13" fill="#5e5e5e"/>
<text x="59.9" y="256.6" text-anchor="middle" font-size="11.4" fill="#595959">0%</text>
<text x="154.5" y="256.6" text-anchor="middle" font-size="11.4" fill="#595959">20%</text>
<text x="249.2" y="256.6" text-anchor="middle" font-size="11.4" fill="#595959">40%</text>
<text x="343.8" y="256.6" text-anchor="middle" font-size="11.4" fill="#595959">60%</text>
<text x="438.5" y="256.6" text-anchor="middle" font-size="11.4" fill="#595959">80%</text>
<text x="533.1" y="256.6" text-anchor="middle" font-size="11.4" fill="#595959">100%</text>
<rect x="66.3" y="273.3" width="7.5" height="7.4" fill="#4a4a4a"/>
<ellipse cx="70.05" cy="274" rx="1.25" ry="1.0" fill="#fff"/>
<ellipse cx="67.4" cy="276.9" rx="1.25" ry="1.0" fill="#fff"/>
<ellipse cx="72.7" cy="276.9" rx="1.25" ry="1.0" fill="#fff"/>
<ellipse cx="70.05" cy="279.8" rx="1.25" ry="1.0" fill="#fff"/>
<ellipse cx="66.3" cy="273.6" rx="1.25" ry="1.0" fill="#fff"/>
<ellipse cx="73.8" cy="273.6" rx="1.25" ry="1.0" fill="#fff"/>
<ellipse cx="66.3" cy="280.4" rx="1.25" ry="1.0" fill="#fff"/>
<ellipse cx="73.8" cy="280.4" rx="1.25" ry="1.0" fill="#fff"/>
<text x="76.9" y="280.5" font-size="12.1" fill="#404040" textLength="77.4" lengthAdjust="spacingAndGlyphs">Like Extremely</text>
<path d="M210 273.9H217.5V275H210ZM210 278.32H217.5V279.42H210Z" fill="#222"/>
<text x="220.6" y="280.5" font-size="12.1" fill="#404040" textLength="82.2" lengthAdjust="spacingAndGlyphs">Like Very Much</text>
<path d="M353.9 273.6H361.4V275H353.9ZM353.9 276.15H361.4V277.55H353.9ZM353.9 278.7H361.4V280.1H353.9Z" fill="#666"/>
<text x="364.5" y="280.5" font-size="12.1" fill="#404040" textLength="87.1" lengthAdjust="spacingAndGlyphs">Like Moderately</text>
<path d="M66.3 288.4H73.8V289.61H66.3ZM66.3 292.23H73.8V294.03H66.3Z" fill="#000"/>
<text x="76.9" y="295.6" font-size="12.1" fill="#404040" textLength="62.6" lengthAdjust="spacingAndGlyphs">Like Slightly</text>
<rect x="210" y="288.4" width="7.5" height="7.4" fill="#000"/>
<text x="220.6" y="295.6" font-size="12.1" fill="#404040" textLength="124.3" lengthAdjust="spacingAndGlyphs">Neither Like nor Dislike</text>
<rect x="353.9" y="288.4" width="7.5" height="7.4" fill="#a9a7a7"/><g fill="none" stroke="#fff" stroke-dasharray="1.3 7.54"><path d="M353.9 288.44H361.4" stroke-width="0.07" stroke-dashoffset="3.75"/><path d="M353.9 292.24H361.4" stroke-width="1.3" stroke-dashoffset="3.75"/></g><g fill="none" stroke="#fff" stroke-dasharray="1.3 7.54"><path d="M353.9 290.03H361.4" stroke-width="1.3" stroke-dashoffset="8.17"/><path d="M353.9 294.45H361.4" stroke-width="1.3" stroke-dashoffset="8.17"/></g>
<text x="364.5" y="295.6" font-size="12.1" fill="#404040" textLength="75.9" lengthAdjust="spacingAndGlyphs">Dislike Slightly</text>
<rect x="66.3" y="303.4" width="7.5" height="7.4" fill="#1c1c1c"/><g fill="none" stroke="#fff" stroke-dasharray="1.05 1.16"><path d="M66.3 303.71H73.8" stroke-width="0.62" stroke-dashoffset="0.96"/><path d="M66.3 305.71H73.8" stroke-width="1.05" stroke-dashoffset="0.96"/><path d="M66.3 307.92H73.8" stroke-width="1.05" stroke-dashoffset="0.96"/><path d="M66.3 310.13H73.8" stroke-width="1.05" stroke-dashoffset="0.96"/></g>
<text x="76.9" y="310.6" font-size="12.1" fill="#404040" textLength="99.4" lengthAdjust="spacingAndGlyphs">Dislike Moderately</text>
<rect x="210" y="303.4" width="7.5" height="7.4" fill="url(#pDVM)"/>
<text x="220.6" y="310.6" font-size="12.1" fill="#404040" textLength="96.2" lengthAdjust="spacingAndGlyphs">Dislike Very Much</text>
<rect x="353.9" y="303.4" width="7.5" height="7.4" fill="#5e5e5e"/>
<text x="364.5" y="310.6" font-size="12.1" fill="#404040" textLength="91.6" lengthAdjust="spacingAndGlyphs">Dislike Extremely</text>
</svg>
</body></html>
